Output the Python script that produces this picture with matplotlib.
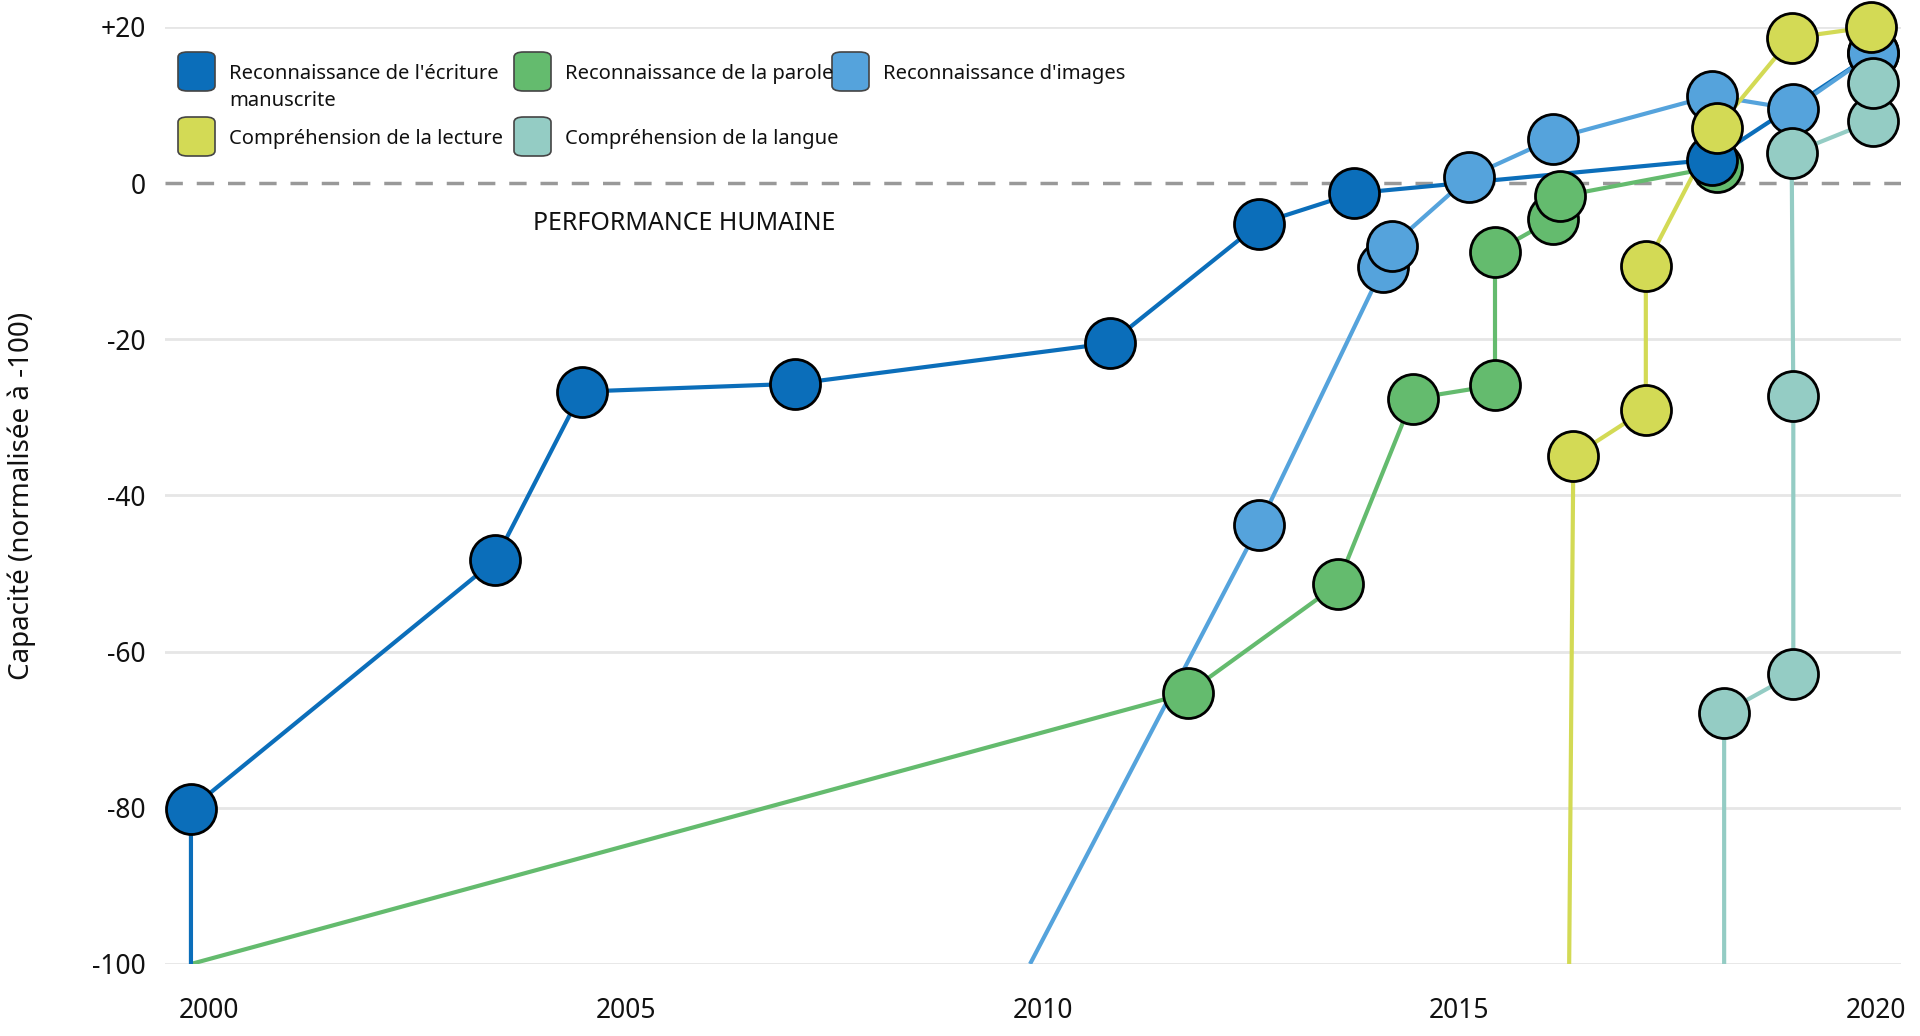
import matplotlib
matplotlib.use("Agg")
import matplotlib.pyplot as plt
from matplotlib.patches import FancyBboxPatch

plt.rcParams['font.family'] = ['Noto Sans', 'DejaVu Sans']

# données (année, capacité normalisée)
hand_x = [1999.78, 1999.78, 2003.43, 2004.47, 2007.03, 2010.81, 2012.60, 2013.74, 2018.03, 2019.97]
hand_y = [-100, -80.1, -48.3, -26.7, -25.7, -20.5, -5.2, -1.3, 3.0, 16.6]

speech_x = [1999.78, 2011.74, 2013.54, 2014.44, 2015.43, 2015.43, 2016.13, 2016.21, 2018.10]
speech_y = [-100, -65.3, -51.4, -27.6, -25.9, -8.8, -4.6, -1.7, 2.1]

image_x = [2009.85, 2012.60, 2014.09, 2014.19, 2015.12, 2016.13, 2018.03, 2019.01, 2019.97]
image_y = [-100, -43.8, -10.7, -8.0, 0.8, 5.7, 11.2, 9.5, 16.6]

reading_x = [2016.32, 2016.37, 2017.24, 2017.24, 2018.10, 2018.99, 2019.94]
reading_y = [-100, -35.0, -29.0, -10.6, 7.1, 18.6, 20.0]

lang_x = [2018.18, 2018.18, 2019.01, 2019.01, 2018.99, 2019.97, 2019.97]
lang_y = [-100, -67.8, -62.9, -27.3, 3.8, 8.0, 12.8]

labels = ["Reconnaissance de l'écriture\nmanuscrite", "Reconnaissance de la parole",
          "Reconnaissance d'images", "Compréhension de la lecture",
          "Compréhension de la langue"]
colors = ['#0b6eba', '#64bb6e', '#55a3dc', '#d3da55', '#94ccc4']

y_ticks = [20, 0, -20, -40, -60, -80, -100]
y_ticklabels = ['+20', '0', '-20', '-40', '-60', '-80', '-100']
x_ticks = [2000, 2005, 2010, 2015, 2020]

fig = plt.figure(figsize=(19.2, 10.36), dpi=100)
ax = fig.add_axes([0.086, 0.0695, 0.904, 0.9045])

# ordre de dessin : parole, écriture, images, lecture, langue
series = [(speech_x, speech_y, 1), (hand_x, hand_y, 0), (image_x, image_y, 2),
          (reading_x, reading_y, 3), (lang_x, lang_y, 4)]
for xs, ys, i in series:
    ax.plot(xs, ys, color=colors[i], lw=3, zorder=3, solid_capstyle='butt')
for k, (xs, ys, i) in enumerate(series):
    ax.plot(xs[1:], ys[1:], ls='none', marker='o', markersize=36,
            markerfacecolor=colors[i], markeredgecolor='black',
            markeredgewidth=2, zorder=5 + k, clip_on=False)

ax.axhline(0, color='#999999', lw=2.5, ls=(0, (5, 4)), zorder=2)
for v in y_ticks:
    if v != 0:
        ax.axhline(v, color='#e6e6e6', lw=2, zorder=1)

ax.text(2005.7, -5.2, 'PERFORMANCE HUMAINE', fontsize=18, ha='center', va='center',
        color='#111111')

ax.set_xlim(1999.47, 2020.3)
ax.set_ylim(-100, 20)
ax.set_yticks(y_ticks)
ax.set_yticklabels(y_ticklabels)
ax.set_xticks(x_ticks)
ax.tick_params(axis='both', length=0, labelsize=19, colors='#111111')
ax.tick_params(axis='y', pad=14)
ax.tick_params(axis='x', pad=24)
for s in ax.spines.values():
    s.set_visible(False)
ax.set_ylabel('Capacité (normalisée à -100)', fontsize=20, labelpad=40, color='#111111')

# légende manuelle
leg_cols = [178, 514, 832]
leg_rows = [52, 117]
slots = [(0, 0), (1, 0), (2, 0), (0, 1), (1, 1)]
for i, (c, r) in enumerate(slots):
    x0 = leg_cols[c] / 1920
    y0 = 1 - (leg_rows[r] + 39) / 1036
    box = FancyBboxPatch((x0, y0), 37 / 1920, 39 / 1036, transform=fig.transFigure,
                         boxstyle='round,pad=0,rounding_size=0.005',
                         facecolor=colors[i], edgecolor='#444444', lw=1.2)
    fig.patches.append(box)
    fig.text((leg_cols[c] + 51) / 1920, 1 - (leg_rows[r] + 12) / 1036, labels[i],
             fontsize=14.5, va='top', ha='left', linespacing=1.45, color='#111111')

fig.savefig('out.png', dpi=100)
